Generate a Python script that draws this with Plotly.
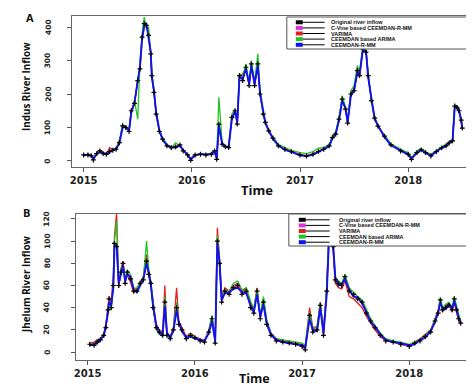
import plotly.graph_objects as go

W, H = 474, 387

legend_names = ["Original river inflow", "C-Vine based CEEMDAN-R-MM", "VARIMA",
                "CEEMDAN based ARIMA", "CEEMDAN-R-MM"]
colors = ["#000000", "#dd33dd", "#e02020", "#22c422", "#1212ee"]

xticks = [2015, 2016, 2017, 2018]
xtick_labels = ["2015", "2016", "2017", "2018"]
yticks_A = [0, 100, 200, 300, 400]
yticks_B = [0, 20, 40, 60, 80, 100, 120]

# ---------------- Panel A : Indus ----------------
t_A = [
    2015.00, 2015.04, 2015.07, 2015.09, 2015.12, 2015.15, 2015.18, 2015.21, 2015.24, 2015.27,
    2015.30, 2015.33, 2015.36, 2015.39, 2015.42, 2015.44, 2015.47, 2015.50, 2015.52, 2015.54,
    2015.56, 2015.58, 2015.60, 2015.62, 2015.63, 2015.65, 2015.67, 2015.70, 2015.73, 2015.77,
    2015.81, 2015.85, 2015.89, 2015.92, 2015.96, 2015.99, 2016.03, 2016.08, 2016.13, 2016.18,
    2016.21, 2016.23, 2016.25, 2016.28, 2016.31, 2016.34, 2016.37, 2016.40, 2016.42, 2016.44,
    2016.47, 2016.50, 2016.53, 2016.55, 2016.58, 2016.61, 2016.63, 2016.66, 2016.68, 2016.71,
    2016.75, 2016.80, 2016.86, 2016.92, 2017.00, 2017.06, 2017.12, 2017.17, 2017.22, 2017.27,
    2017.30, 2017.33, 2017.36, 2017.39, 2017.42, 2017.44, 2017.47, 2017.50, 2017.53, 2017.55,
    2017.58, 2017.61, 2017.63, 2017.66, 2017.69, 2017.72, 2017.78, 2017.84, 2017.93, 2018.00,
    2018.03, 2018.08, 2018.12, 2018.16, 2018.21, 2018.26, 2018.31, 2018.35, 2018.38, 2018.41,
    2018.43, 2018.45, 2018.47, 2018.49, 2018.50]
orig_A = [
    18, 18, 16, 3, 22, 30, 22, 20, 28, 32,
    35, 55, 105, 100, 88, 150, 172, 240, 275, 370,
    410, 405, 375, 320, 255, 205, 140, 88, 65, 45,
    40, 42, 48, 30, 18, 2, 18, 20, 18, 20,
    30, 5, 110, 50, 42, 40, 130, 150, 110, 255,
    240, 280, 225, 290, 225, 290, 200, 140, 115, 90,
    68, 45, 35, 28, 18, 15, 20, 28, 35, 45,
    70, 80, 125, 185, 155, 113, 200, 210, 270, 255,
    335, 325, 255, 180, 128, 104, 74, 48, 30, 20,
    5, 25, 33, 25, 15, 28, 39, 45, 54, 60,
    164, 160, 150, 122, 98]
cvine_A = [
    18, 18, 16, 4, 22, 29, 22, 20, 28, 32,
    35, 56, 104, 100, 89, 150, 172, 240, 276, 369,
    409, 405, 376, 321, 255, 206, 141, 89, 65, 45,
    40, 42, 48, 30, 18, 3, 18, 20, 18, 20,
    30, 6, 109, 50, 42, 40, 130, 150, 111, 254,
    241, 280, 226, 289, 226, 290, 201, 140, 115, 90,
    68, 45, 35, 28, 18, 15, 20, 28, 35, 45,
    70, 80, 125, 185, 155, 113, 200, 210, 270, 255,
    334, 325, 255, 180, 128, 104, 74, 48, 30, 20,
    5, 25, 33, 25, 15, 28, 39, 45, 54, 60,
    163, 160, 150, 122, 98]
varima_A = [
    18, 20, 17, 8, 24, 33, 25, 21, 40, 34,
    37, 58, 102, 98, 95, 148, 170, 245, 270, 365,
    400, 408, 380, 330, 258, 212, 142, 90, 68, 48,
    42, 44, 47, 31, 20, 8, 19, 21, 19, 22,
    31, 12, 108, 55, 44, 42, 128, 152, 112, 252,
    260, 278, 228, 288, 240, 292, 205, 142, 118, 93,
    70, 47, 36, 29, 19, 16, 21, 29, 37, 46,
    72, 82, 127, 182, 160, 116, 205, 208, 272, 250,
    328, 330, 258, 182, 130, 106, 76, 50, 32, 22,
    8, 27, 35, 26, 17, 29, 40, 46, 56, 61,
    162, 158, 152, 120, 99]
arima_A = [
    19, 17, 18, 5, 25, 28, 23, 22, 30, 30,
    38, 60, 110, 95, 92, 140, 180, 125, 290, 380,
    430, 395, 400, 310, 260, 200, 150, 85, 70, 50,
    38, 55, 45, 33, 20, 6, 17, 22, 20, 22,
    32, 10, 190, 55, 45, 44, 140, 155, 118, 262,
    250, 290, 230, 300, 235, 320, 210, 135, 120, 85,
    72, 50, 40, 32, 25, 22, 28, 38, 40, 50,
    75, 88, 130, 195, 160, 118, 210, 225, 285, 265,
    340, 330, 260, 175, 132, 100, 78, 52, 35, 25,
    10, 30, 38, 28, 20, 32, 42, 50, 58, 65,
    168, 165, 155, 125, 100]
rmm_A = [
    17, 19, 15, 6, 20, 28, 24, 19, 27, 33,
    36, 52, 100, 103, 90, 145, 175, 235, 280, 362,
    405, 410, 370, 325, 250, 210, 145, 92, 63, 47,
    41, 40, 46, 32, 19, 5, 16, 21, 19, 21,
    28, 8, 105, 52, 43, 41, 125, 148, 115, 250,
    245, 275, 230, 285, 230, 285, 205, 145, 112, 92,
    66, 46, 33, 27, 17, 14, 19, 27, 36, 44,
    68, 82, 120, 180, 158, 115, 195, 212, 265, 258,
    330, 328, 250, 185, 125, 106, 72, 47, 31, 19,
    7, 24, 34, 24, 16, 27, 40, 44, 55, 62,
    160, 162, 148, 124, 97]

# ---------------- Panel B : Jhelum ----------------
t_B = [
    2015.02, 2015.06, 2015.09, 2015.12, 2015.15, 2015.17, 2015.19, 2015.20, 2015.22, 2015.24,
    2015.25, 2015.27, 2015.29, 2015.31, 2015.33, 2015.35, 2015.37, 2015.40, 2015.43, 2015.46,
    2015.49, 2015.52, 2015.55, 2015.57, 2015.59, 2015.61, 2015.64, 2015.67, 2015.70, 2015.72,
    2015.74, 2015.77, 2015.80, 2015.83, 2015.85, 2015.88, 2015.92, 2015.96, 2016.00, 2016.05,
    2016.09, 2016.13, 2016.16, 2016.19, 2016.21, 2016.23, 2016.25, 2016.28, 2016.32, 2016.36,
    2016.40, 2016.44, 2016.48, 2016.52, 2016.55, 2016.58, 2016.61, 2016.64, 2016.67, 2016.71,
    2016.76, 2016.82, 2016.88, 2016.94, 2017.00, 2017.03, 2017.07, 2017.10, 2017.14, 2017.17,
    2017.20, 2017.23, 2017.25, 2017.27, 2017.29, 2017.31, 2017.34, 2017.37, 2017.40, 2017.44,
    2017.48, 2017.52, 2017.56, 2017.60, 2017.64, 2017.68, 2017.73, 2017.78, 2017.85, 2017.92,
    2018.00, 2018.05, 2018.10, 2018.15, 2018.20, 2018.24, 2018.27, 2018.29, 2018.31, 2018.34,
    2018.37, 2018.40, 2018.42, 2018.44, 2018.46, 2018.48]
orig_B = [
    7, 6, 9, 11, 15, 22, 38, 48, 40, 60,
    98, 95, 60, 72, 80, 62, 72, 66, 55, 55,
    62, 65, 82, 70, 62, 40, 22, 18, 15, 45,
    15, 12, 20, 40, 25, 20, 12, 15, 13, 10,
    9, 18, 30, 8, 100, 80, 45, 55, 52, 58,
    60, 52, 55, 40, 35, 55, 30, 45, 25, 15,
    10, 9, 8, 7, 5, 2, 33, 18, 20, 42,
    15, 55, 100, 122, 95, 65, 62, 60, 68, 55,
    52, 48, 45, 35, 28, 22, 15, 10, 9, 7,
    5, 8, 10, 14, 18, 28, 35, 47, 38, 40,
    42, 38, 48, 38, 30, 26]
cvine_B = [
    7, 6, 9, 11, 15, 22, 37, 48, 40, 61,
    97, 95, 61, 72, 80, 62, 72, 66, 55, 55,
    62, 65, 83, 70, 62, 41, 22, 18, 15, 44,
    15, 12, 20, 41, 25, 20, 12, 15, 13, 10,
    9, 18, 30, 8, 101, 80, 45, 55, 52, 58,
    60, 52, 55, 40, 35, 56, 30, 45, 25, 15,
    10, 9, 8, 7, 5, 3, 34, 18, 20, 42,
    15, 56, 101, 121, 95, 65, 62, 60, 68, 55,
    52, 48, 45, 35, 28, 22, 15, 10, 9, 7,
    5, 8, 10, 14, 18, 28, 35, 47, 38, 40,
    42, 38, 48, 38, 30, 26]
varima_B = [
    8, 9, 11, 12, 16, 25, 42, 50, 45, 70,
    104, 125, 58, 75, 82, 65, 70, 63, 53, 58,
    64, 68, 88, 68, 60, 45, 25, 20, 18, 60,
    18, 14, 22, 58, 28, 22, 14, 17, 14, 12,
    10, 20, 32, 12, 112, 85, 50, 58, 55, 60,
    62, 55, 57, 44, 38, 58, 33, 48, 28, 17,
    12, 10, 9, 8, 7, 5, 40, 22, 23, 45,
    18, 60, 110, 118, 93, 62, 58, 57, 64, 50,
    48, 44, 40, 32, 26, 20, 14, 10, 9, 8,
    6, 9, 12, 16, 20, 30, 38, 48, 36, 42,
    44, 36, 45, 36, 28, 25]
arima_B = [
    7, 7, 10, 11, 17, 22, 40, 46, 38, 62,
    100, 118, 64, 74, 78, 66, 74, 70, 58, 57,
    63, 67, 100, 74, 64, 44, 20, 16, 14, 50,
    14, 13, 21, 45, 26, 18, 13, 16, 13, 11,
    10, 19, 33, 9, 105, 83, 48, 56, 55, 62,
    64, 56, 58, 46, 39, 56, 34, 50, 29, 17,
    12, 11, 10, 9, 8, 6, 36, 21, 22, 44,
    19, 58, 105, 125, 100, 68, 64, 62, 70, 58,
    54, 50, 47, 38, 30, 24, 17, 12, 10, 9,
    7, 9, 11, 15, 20, 29, 36, 49, 40, 43,
    45, 40, 50, 42, 33, 27]
rmm_B = [
    6, 7, 8, 12, 14, 24, 35, 45, 42, 58,
    95, 97, 62, 70, 78, 64, 70, 68, 56, 54,
    60, 66, 80, 72, 60, 42, 24, 17, 16, 42,
    17, 13, 19, 38, 27, 19, 13, 14, 12, 11,
    10, 17, 28, 10, 98, 82, 47, 53, 54, 57,
    58, 54, 53, 42, 36, 52, 32, 43, 26, 16,
    11, 9, 8, 7, 6, 4, 30, 20, 19, 40,
    17, 52, 98, 118, 97, 67, 60, 61, 66, 56,
    50, 49, 44, 36, 27, 23, 16, 11, 9, 8,
    6, 7, 11, 13, 19, 27, 36, 45, 39, 39,
    43, 39, 46, 39, 31, 27]


def px(x):
    return x / W


def py(y):
    return 1 - y / H


fig = go.Figure()

panels = [
    (t_A, [cvine_A, varima_A, arima_A, rmm_A], orig_A, "x", "y"),
    (t_B, [cvine_B, varima_B, arima_B, rmm_B], orig_B, "x2", "y2"),
]
for t, models, orig, xa, ya in panels:
    fig.add_trace(go.Scatter(x=t, y=orig, mode="lines", line=dict(color=colors[0], width=1),
                             xaxis=xa, yaxis=ya, showlegend=False, hoverinfo="skip"))
    widths = [1.3, 1.3, 1.3, 1.9]
    for k, m in enumerate(models):
        fig.add_trace(go.Scatter(x=t, y=m, mode="lines",
                                 line=dict(color=colors[k + 1], width=widths[k]),
                                 xaxis=xa, yaxis=ya, showlegend=False, name=legend_names[k + 1]))
    fig.add_trace(go.Scatter(x=t, y=orig, mode="markers",
                             marker=dict(symbol="cross-thin-open", size=3.5, color="#000000",
                                         line=dict(color="#000000", width=1.2)),
                             xaxis=xa, yaxis=ya, showlegend=False, name=legend_names[0]))

tickfont_x = dict(family="DejaVu Sans", size=10, color="#222222", weight="bold")
common_x = dict(tickmode="array", tickvals=xticks, ticktext=xtick_labels, ticks="outside",
                ticklen=4, tickcolor="#555555", showline=True, mirror=True,
                linecolor="#666666", linewidth=1, showgrid=False, zeroline=False,
                tickfont=tickfont_x)
common_y = dict(tickmode="array", ticks="outside", ticklen=4, tickcolor="#555555",
                showline=True, mirror=True, linecolor="#666666", linewidth=1,
                showgrid=False, zeroline=False, showticklabels=False)

fig.update_layout(
    width=W, height=H, margin=dict(l=0, r=0, t=0, b=0),
    paper_bgcolor="white", plot_bgcolor="white", showlegend=False,
    xaxis=dict(common_x, domain=[px(62), px(464)], range=[2014.89, 2018.59], anchor="y"),
    yaxis=dict(common_y, domain=[py(159), py(8)], range=[-18, 433], tickvals=yticks_A,
               anchor="x"),
    xaxis2=dict(common_x, domain=[px(66), px(466)], range=[2014.889, 2018.604], anchor="y2"),
    yaxis2=dict(common_y, domain=[py(352), py(206)], range=[-7.2, 124.5], tickvals=yticks_B,
                anchor="x2"),
)

ann = []
shapes = []
bold = dict(family="Open Sans", color="#111111", weight="bold")


def label(x, y, text, size, angle=0):
    return dict(x=px(x), y=py(y), text=text, showarrow=False, xref="paper", yref="paper",
                xanchor="center", yanchor="middle", textangle=angle, font=dict(bold, size=size))


ann.append(label(20, 9, "A", 11))
ann.append(label(17, 204, "B", 11))
ann.append(label(248, 182, "Time", 13))
ann.append(label(246, 370, "Time", 12.5))
ann.append(label(16, 78, "Indus River Inflow", 9.8, -90))
ann.append(label(16, 276, "Jhelum River Inflow", 9.8, -90))

# rotated y tick labels, positioned through each y axis
for ticks, yref, xpos in [(yticks_A, "y", 38), (yticks_B, "y2", 37)]:
    for v in ticks:
        ann.append(dict(x=px(xpos), y=v, xref="paper", yref=yref, text=str(v), showarrow=False,
                        xanchor="center", yanchor="middle", textangle=-90,
                        font=dict(family="DejaVu Sans", size=7.5, color="#222222",
                                  weight="bold")))

# manual legends
legends = [
    dict(box=(278, 9, 464, 41), rows=[14.3, 19.9, 25.5, 31.1, 36.8], sq=(287, 294), ln=316, tx=320),
    dict(box=(280, 206, 466, 238), rows=[211.8, 217.4, 223.0, 228.6, 234.2], sq=(290, 297), ln=321, tx=328),
]
for lg in legends:
    x0, y0, x1, y1 = lg["box"]
    shapes.append(dict(type="rect", xref="paper", yref="paper", x0=px(x0), x1=px(x1),
                       y0=py(y1), y1=py(y0), line=dict(color="#555555", width=1),
                       fillcolor="white", layer="above"))
    for name, col, ry in zip(legend_names, colors, lg["rows"]):
        shapes.append(dict(type="rect", xref="paper", yref="paper", x0=px(lg["sq"][0]),
                           x1=px(lg["sq"][1]), y0=py(ry + 2), y1=py(ry - 2),
                           line=dict(width=0), fillcolor=col, layer="above"))
        shapes.append(dict(type="line", xref="paper", yref="paper", x0=px(lg["sq"][1]),
                           x1=px(lg["ln"]), y0=py(ry), y1=py(ry),
                           line=dict(color="#000000", width=1), layer="above"))
        ann.append(dict(x=px(lg["tx"]), y=py(ry), text=name, showarrow=False, xanchor="left",
                        yanchor="middle", xref="paper", yref="paper",
                        font=dict(family="Liberation Sans", size=5.5, color="#111111",
                                  weight="bold")))

fig.update_layout(annotations=ann, shapes=shapes)
fig.write_html("out.html")
